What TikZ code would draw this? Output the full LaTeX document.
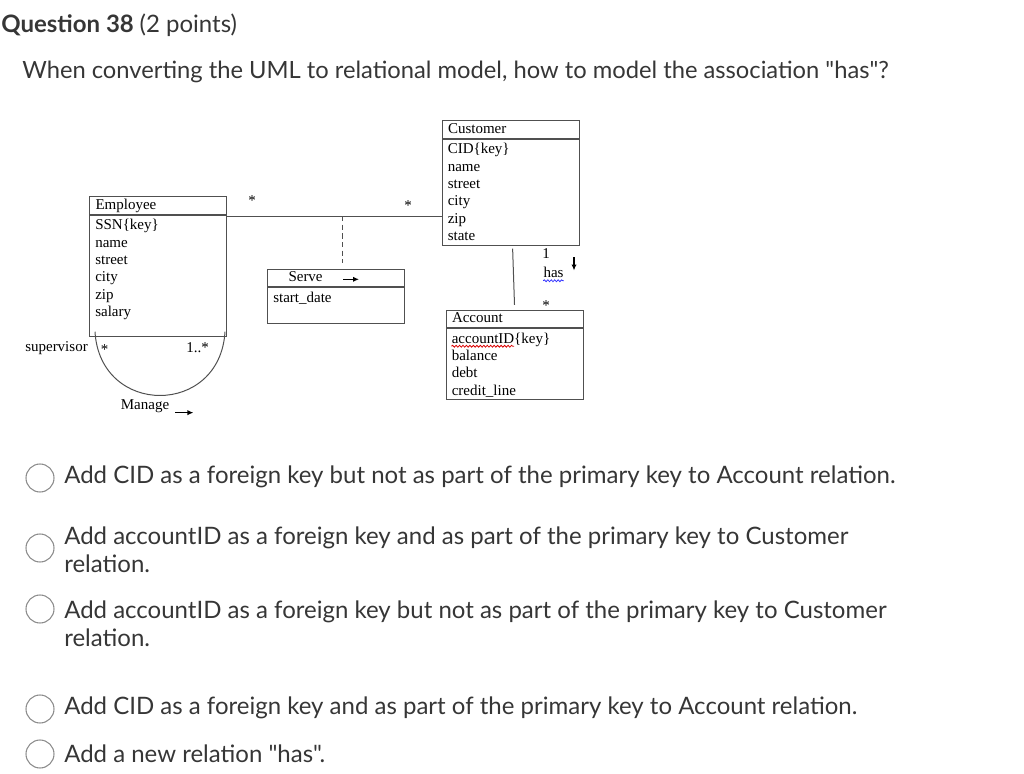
\documentclass[tikz,border=0pt]{standalone}
\usepackage{fontspec}
\setmainfont{Liberation Serif}
\newfontfamily\latofont{Lato}
\usetikzlibrary{positioning,arrows.meta,decorations.pathmorphing}

\definecolor{quiztext}{HTML}{363636}
\definecolor{radiogray}{HTML}{8C8C8C}
\definecolor{umlline}{HTML}{505050}

\tikzset{
  umlfont/.style={font=\fontsize{11.25}{13}\selectfont},
  classhead/.style={draw=umlline, line width=0.75pt, umlfont, minimum height=13.1pt,
    text width=93.75pt, align=left, inner xsep=4.5pt, inner ysep=0pt,
    text height=8pt, text depth=2.5pt},
  classbody/.style={draw=umlline, line width=0.75pt, minimum width=102.75pt,
    minimum height=#1*0.75pt, inner sep=0pt},
  attrs/.style={umlfont, align=left, anchor=north west, inner sep=0pt},
  umllabel/.style={umlfont, inner sep=0pt},
  umlconn/.style={draw=umlline, line width=0.75pt},
  umlarrow/.style={black, line width=0.9pt, -{Latex[length=4.5pt,width=4pt]}},
  squiggle/.style={line width=0.6pt, decorate,
    decoration={snake, amplitude=0.7pt, segment length=2.6pt}},
  radio/.style={circle, draw=radiogray, line width=0.8pt, minimum size=21pt, inner sep=0pt},
  option/.style={font=\latofont\fontsize{18}{21}\selectfont, text=quiztext,
    align=left, anchor=west, inner sep=0pt}
}

\begin{document}
\begin{tikzpicture}[x=0.75pt, y=-0.75pt]
  \useasboundingbox (0,0) rectangle (1024,774);

  % Question header
  \node[anchor=west, inner sep=0pt, text=quiztext, font=\latofont\fontsize{18}{22}\selectfont]
    (title) at (1,25) {\bfseries Question 38 \mdseries(2 points)};
  \node[option, font=\latofont\fontsize{17.8}{21}\selectfont] (question) at (22,72)
    {When converting the UML to relational model, how to model the association "has"?};

  % Classes
  \node[classhead] (empHead) at (158,205.5) {Employee};
  \node[classbody=121, below=0pt of empHead] (empBody) {};
  \node[attrs] (empAttrs) at ([xshift=4.5pt,yshift=-3.3pt]empBody.north west)
    {SSN\{key\}\\name\\street\\city\\zip\\salary};

  \node[classhead] (custHead) at (510.5,129.5) {Customer};
  \node[classbody=106, below=0pt of custHead] (custBody) {};
  \node[attrs] (custAttrs) at ([xshift=4.5pt,yshift=-3.3pt]custBody.north west)
    {CID\{key\}\\name\\street\\city\\zip\\state};

  \node[classhead] (acctHead) at (514.5,319) {Account};
  \node[classbody=71, below=0pt of acctHead] (acctBody) {};
  \node[attrs] (acctAttrs) at ([xshift=4.5pt,yshift=-3.3pt]acctBody.north west)
    {accountID\{key\}\\balance\\debt\\credit\_line};

  \node[classhead] (servHead) at (336,278) {\hspace*{11.25pt}Serve};
  \node[classbody=36, below=0pt of servHead] (servBody) {};
  \node[attrs] (servAttrs) at ([xshift=4.5pt,yshift=-3.1pt]servBody.north west) {start\_date};
  \draw[umlarrow] (servHead.center) ++(7,1.3) -- ++(16,0);

  % Serve association with its association class
  \coordinate (servLink) at (342,216);
  \draw[umlconn] ([yshift=-1.5pt]empHead.south east) -- ([yshift=-1.5pt]empHead.south east -| custBody.west);
  \draw[umlconn, dash pattern=on 4pt off 2.5pt, shorten >=4.5pt] (servLink) -- (servLink |- servHead.north);
  \node[umllabel] (multServE) at (252,201) {*};
  \node[umllabel] (multServC) at (408,206) {*};

  % has
  \draw[umlconn] ([xshift=1.6pt,yshift=-2.25pt]custBody.south) -- ([yshift=3.75pt]acctHead.north);
  \node[umllabel] (multOne) at (546,254) {1};
  \node[umllabel] (hasLabel) at (553.5,272) {has};
  \node[umllabel] (multMany) at (546,305.5) {*};
  \draw[umlarrow] (574,257) -- (574,270.5);
  \draw[squiggle, blue!80!white] ([yshift=-2.4pt]hasLabel.south west) -- ([yshift=-2.4pt]hasLabel.south east);
  \draw[squiggle, red!85!black] ([yshift=-10.2pt]acctAttrs.north west) -- ([xshift=47pt,yshift=-10.2pt]acctAttrs.north west);

  % Manage (self association)
  \draw[umlconn] ([xshift=4.5pt,yshift=3.75pt]empBody.south west)
    .. controls +(5,85) and +(-5,85) .. ([xshift=-1.5pt,yshift=3.75pt]empBody.south east);
  \node[umllabel] (supervisor) at (56.5,348) {supervisor};
  \node[umllabel] (multSup) at (104.5,349.5) {*};
  \node[umllabel] (multMgr) at (197.5,348) {1..*};
  \node[umllabel] (manage) at (145,406) {Manage};
  \draw[umlarrow] ([xshift=4.5pt,yshift=-5pt]manage.east) -- ++(18,0);

  % Answer choices
  \node[radio] (radioA) at (40,478) {};
  \node[radio] (radioB) at (40,548) {};
  \node[radio] (radioC) at (40,609) {};
  \node[radio] (radioD) at (40,709) {};
  \node[radio] (radioE) at (40,754) {};
  \node[option] (optA) at (64,477)
    {Add CID as a foreign key but not as part of the primary key to Account relation.};
  \node[option] (optB) at (64,550)
    {Add accountID as a foreign key and as part of the primary key to Customer\\relation.};
  \node[option] (optC) at (64,624)
    {Add accountID as a foreign key but not as part of the primary key to Customer\\relation.};
  \node[option] (optD) at (64,708)
    {Add CID as a foreign key and as part of the primary key to Account relation.};
  \node[option] (optE) at (64,754) {Add a new relation "has".};
\end{tikzpicture}
\end{document}
